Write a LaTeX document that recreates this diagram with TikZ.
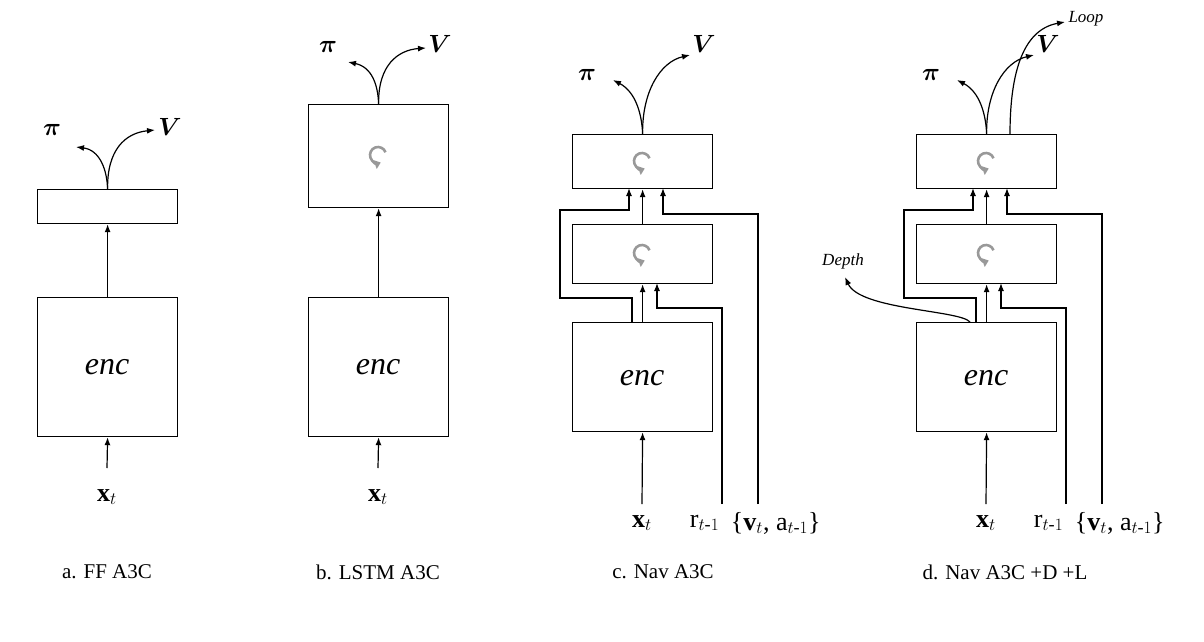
\documentclass[tikz,border=0pt]{standalone}
\usepackage{amsmath,amssymb,bm}
\usepackage{fontspec}
\setmainfont{Liberation Serif}
\usetikzlibrary{arrows.meta}
\begin{document}
\begin{tikzpicture}[x=1pt,y=-1pt,line width=1.2pt,
  box/.style={draw,line width=1.2pt,inner sep=0pt,anchor=north west},
  arr/.style={-{Latex[length=8pt,width=6pt]}},
  captxt/.style={font=\fontsize{21}{24}\selectfont},
  lab/.style={font=\fontsize{26}{28}\selectfont},
  sml/.style={font=\fontsize{17}{19}\selectfont\itshape}]
\useasboundingbox (0,0) rectangle (1204,642);
\newcommand{\refr}[2]{\draw[gray!80,line width=2.6pt,-{Triangle[length=6pt,width=9pt]}] (#1,#2) ++(-20:8) arc[start angle=-20,end angle=-290,radius=8];}
\newcommand{\bx}[5]{\node[box,minimum width=#4pt,minimum height=#5pt] (#1) at (#2,#3) {};}
\newcommand{\enclab}[2]{\node[font=\fontsize{32}{34}\selectfont\itshape] at (#1,#2) {enc};}
% ---- a
\bx{a1}{37}{189}{140}{34}
\bx{ae}{37}{297}{140}{139}
\enclab{107}{367}
\node[lab] (ax) at (107,497) {$\mathbf{x}_{t}$};
\coordinate (axs) at (107,468);
\draw[arr] (axs) -- (ae.south);
\draw[arr] (ae.north) -- (a1.south);
\node[lab] (api) at (52,130) {$\bm{\pi}$};
\node[lab] (aV) at (170,127) {$\bm{V}$};
\coordinate (apit) at (76,147); \coordinate (aVt) at (155,130);
\draw[arr] (a1.north) .. controls (107,170) and (100,150) .. (apit);
\draw[arr] (a1.north) .. controls (107,150) and (125,133) .. (aVt);
\node[captxt] at (107,572) {a. FF A3C};
% ---- b
\bx{b1}{308}{104}{140}{103}
\refr{378}{155}
\bx{be}{308}{297}{140}{139}
\enclab{378}{367}
\node[lab] (bx) at (378,497) {$\mathbf{x}_{t}$};
\coordinate (bxs) at (378,468);
\draw[arr] (bxs) -- (be.south);
\draw[arr] (be.north) -- (b1.south);
\node[lab] (bpi) at (328,47) {$\bm{\pi}$};
\node[lab] (bV) at (440,44) {$\bm{V}$};
\coordinate (bpit) at (348,62); \coordinate (bVt) at (426,48);
\draw[arr] (b1.north) .. controls (378,85) and (372,67) .. (bpit);
\draw[arr] (b1.north) .. controls (378,65) and (398,50) .. (bVt);
\node[captxt] at (378,572) {b. LSTM A3C};
% ---- c and d
\foreach \o/\n in {0/c,344/d}{
\begin{scope}[xshift=\o pt]
\bx{\n1}{572}{134}{140}{54}
\refr{642}{161}
\bx{\n2}{572}{224}{140}{59}
\refr{642}{253}
\bx{\n e}{572}{322}{140}{109}
\enclab{642}{378}
\node[lab] (\n x) at (642,523) {$\mathbf{x}_{t}$};
\node[lab,anchor=west] (\n r) at (686,523) {r$_{t\text{-}1}$};
\node[lab,anchor=west] (\n v) at (727,523) {\{$\mathbf{v}_{t}$, a$_{t\text{-}1}$\}};
\coordinate (\n xs) at (642,504);
\draw[arr] (\n xs) -- (\n e.south);
\draw[arr] (\n e.north) -- (\n 2.south);
\draw[arr] (\n 2.north) -- (\n 1.south);
\coordinate (\n ls) at (632,322);
\draw[arr] (\n ls) |- (560,298) |- (629,210) -- (629,188);
\coordinate (\n rs) at (722,504);
\draw[arr] (\n rs) |- (657,308) -- (657,283);
\coordinate (\n vs) at (758,504);
\draw[arr] (\n vs) |- (663,214) -- (663,188);
\node[lab] (\n pi) at (587,75) {$\bm{\pi}$};
\node[lab] (\n V) at (704,44) {$\bm{V}$};
\coordinate (\n pit) at (613,80); \coordinate (\n Vt) at (690,55);
\draw[arr] (\n 1.north) .. controls (642,115) and (636,92) .. (\n pit);
\draw[arr] (\n 1.north) .. controls (642,92) and (660,62) .. (\n Vt);
\end{scope}}
\node[captxt] at (663,572) {c. Nav A3C};
\node[captxt] at (1005,572) {d. Nav A3C +D +L};
% depth & loop
\node[sml] (dep) at (843,261) {Depth};
\coordinate (depS) at (970,322); \coordinate (depT) at (845,277);
\draw[arr] (depS) .. controls (960,310) and (860,310) .. (depT);
\node[sml] (loop) at (1086,19) {Loop};
\coordinate (loS) at (1010,134); \coordinate (loT) at (1065,22);
\draw[arr] (loS) .. controls (1010,80) and (1020,30) .. (loT);
\end{tikzpicture}
\end{document}
